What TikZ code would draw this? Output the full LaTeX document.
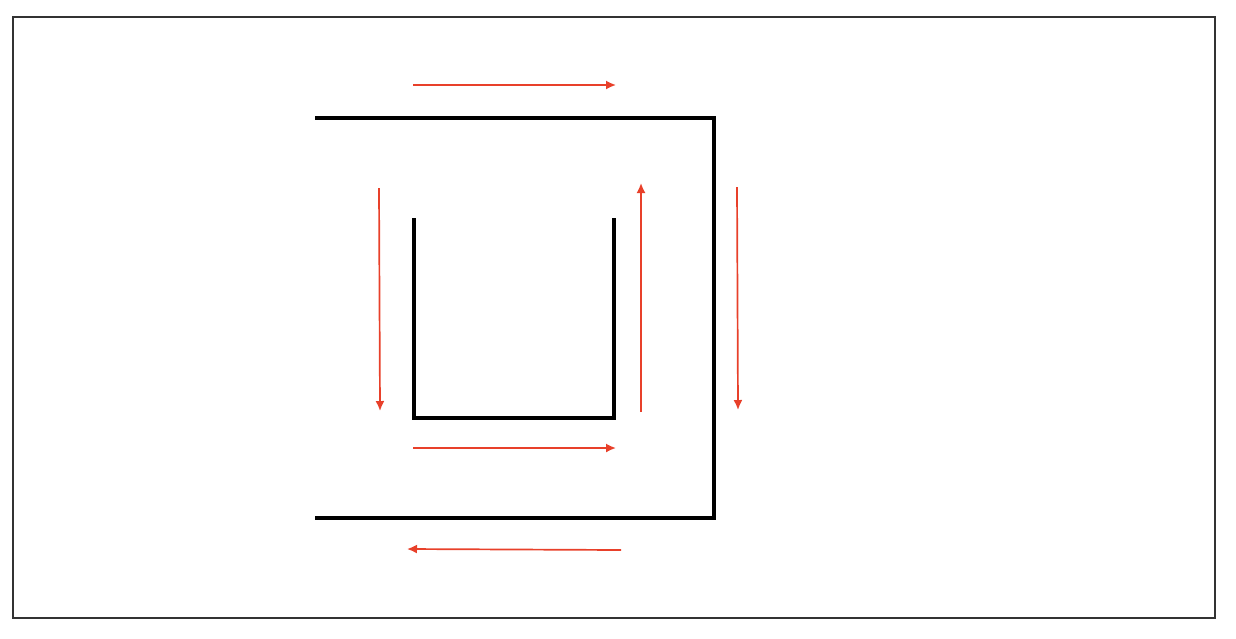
\documentclass[tikz,border=0pt]{standalone}
\usepackage[usenames,dvipsnames]{xcolor}
\usetikzlibrary{arrows.meta}
\definecolor{flowred}{HTML}{E8402A}
\definecolor{framegray}{HTML}{333333}
\begin{document}
\begin{tikzpicture}[x=1pt,y=-1pt,
	wall/.style={line width=3.6pt,line join=miter},
	flow/.style={flowred,line width=1.7pt,-{Latex[length=10pt,width=9pt]}}]
			\useasboundingbox (0,0) rectangle (1236,638);
			\draw[framegray,line width=1.8pt] (13,17) rectangle (1215,618);
			% channel walls
			\draw[wall] (315,118) -- (714,118) -- (714,518) -- (315,518);
			\draw[wall] (414,218) -- (414,418) -- (614,418) -- (614,218);
			% flow
			\draw[flow] (413,85) -- (616,85);
			\draw[flow] (379,188) -- (380,411);
			\draw[flow] (641,412) -- (641,183);
			\draw[flow] (737,187) -- (738,410);
			\draw[flow] (413,448) -- (616,448);
			\draw[flow] (621,550) -- (407,549);
		\end{tikzpicture}
\end{document}
